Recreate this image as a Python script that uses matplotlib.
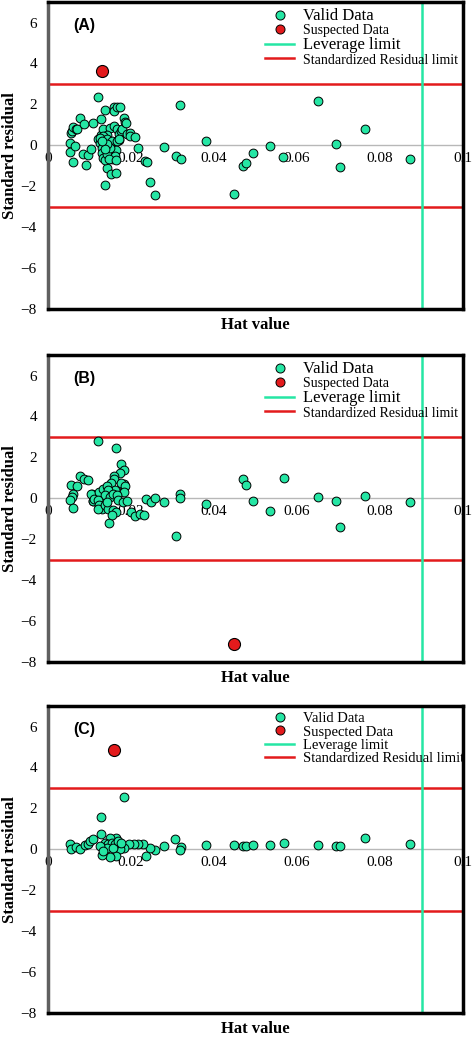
import numpy as np
import matplotlib
matplotlib.use("Agg")
import matplotlib.pyplot as plt
import matplotlib.transforms as mtransforms
from matplotlib.lines import Line2D

# ---------------- data ----------------
a_hat = [0.0054, 0.0054, 0.0055, 0.0057, 0.0059, 0.0061, 0.0064, 0.0068, 0.0071, 0.0078,
         0.0084, 0.0087, 0.0092, 0.0097, 0.0104, 0.0108, 0.0120, 0.0128, 0.0128, 0.0133,
         0.0138, 0.0149, 0.0158, 0.0158, 0.0160, 0.0166, 0.0173, 0.0166, 0.0170, 0.0170,
         0.0175, 0.0178, 0.0183, 0.0186, 0.0187, 0.0190, 0.0198, 0.0197, 0.0210, 0.0217,
         0.0233, 0.0239, 0.0246, 0.0257, 0.0143, 0.0151, 0.0165, 0.0138,
         0.0121, 0.0126, 0.0129, 0.0131, 0.0133, 0.0137, 0.0142, 0.0133, 0.0125, 0.0143,
         0.0153, 0.0167, 0.0172, 0.0147, 0.0159, 0.0165, 0.0143, 0.0153, 0.0149, 0.0141,
         0.0161, 0.0146, 0.0137, 0.0129, 0.0165,
         0.0279, 0.0308, 0.0321, 0.0319, 0.0381, 0.0449, 0.0469, 0.0476, 0.0494, 0.0534,
         0.0567, 0.0650, 0.0695, 0.0704, 0.0764, 0.0872]
a_res = [0.10, -0.31, 0.62, 0.70, 0.90, -0.82, -0.03, 0.80, 0.82, 1.33,
         -0.43, 1.05, -0.98, -0.46, -0.16, 1.07, 2.34, 1.29, 0.52, 0.79,
         1.72, 0.85, 0.95, 1.88, 1.69, 1.88, 1.88, 0.79, 0.53, 0.28,
         0.70, 0.79, 1.33, 1.16, 1.07, 0.54, 0.59, 0.47, 0.41, -0.15,
         -0.75, -0.82, -1.80, -2.44, -1.10, -1.38, -1.34, -1.92,
         0.33, 0.13, -0.11, -0.36, -0.62, -0.72, 0.52, 0.46, 0.38, 0.33,
         0.20, 0.20, 0.33, -0.08, -0.25, -0.25, -0.44, -0.69, -0.11, 0.05,
         -0.52, -0.69, -0.20, 0.20, -0.72,
         -0.08, -0.51, -0.69, 1.97, 0.21, -2.36, -1.02, -0.85, -0.38, -0.05,
         -0.57, 2.15, 0.06, -1.05, 0.82, -0.65]
a_out_hat = [0.0131]
a_out_res = [3.65]

b_hat = [0.0120, 0.0164, 0.0177, 0.0184, 0.0174, 0.0158, 0.0159, 0.0078, 0.0087, 0.0097,
         0.0055, 0.0070, 0.0182, 0.0184, 0.0061, 0.0057, 0.0054, 0.0061, 0.0106, 0.0109,
         0.0237, 0.0247, 0.0259, 0.0279, 0.0319, 0.0319, 0.0381, 0.0469, 0.0476, 0.0494,
         0.0534, 0.0568, 0.0650, 0.0695, 0.0764, 0.0872, 0.0147, 0.0308, 0.0704, 0.0201,
         0.0210, 0.0221, 0.0231,
         0.0152, 0.0175, 0.0186, 0.0182, 0.0161, 0.0104, 0.0108, 0.0112, 0.0124, 0.0133,
         0.0141, 0.0145, 0.0137, 0.0149, 0.0157, 0.0167, 0.0169, 0.0181, 0.0191, 0.0120,
         0.0124, 0.0129, 0.0120, 0.0137, 0.0145, 0.0157, 0.0165, 0.0153, 0.0143]
b_res = [2.78, 2.46, 1.68, 1.37, 1.26, 1.07, 0.96, 1.07, 0.94, 0.91,
         0.63, 0.59, 0.72, 0.54, 0.23, 0.06, -0.06, -0.47, 0.20, -0.13,
         -0.02, -0.20, 0.02, -0.16, 0.23, 0.00, -0.26, 0.96, 0.65, -0.13,
         -0.64, 1.01, 0.08, -0.13, 0.11, -0.16, -1.21, -1.86, -1.42, -0.67,
         -0.88, -0.78, -0.80,
         0.75, 0.75, 0.59, 0.31, 0.42, 0.23, -0.13, -0.02, 0.31, 0.47,
         0.59, 0.39, 0.15, 0.07, 0.23, 0.15, -0.10, -0.18, -0.15, -0.10,
         -0.34, -0.50, -0.50, -0.34, -0.50, -0.59, -0.67, -0.83, -0.18]
b_out_hat = [0.0449]
b_out_res = [-7.10]

c_hat = [0.0128, 0.0182, 0.0128, 0.0764, 0.0307, 0.0568, 0.0534, 0.0872, 0.0650, 0.0695,
         0.0704, 0.0449, 0.0469, 0.0476, 0.0494, 0.0381, 0.0321, 0.0319, 0.0279,
         0.0258, 0.0246, 0.0236, 0.0230, 0.0218, 0.0206, 0.0194, 0.0184, 0.0173, 0.0165,
         0.0164, 0.0149, 0.0149, 0.0129, 0.0054, 0.0055, 0.0067, 0.0078, 0.0088, 0.0096,
         0.0101, 0.0109, 0.0137, 0.0145, 0.0153, 0.0161, 0.0141, 0.0157, 0.0125, 0.0133,
         0.0169, 0.0177]
c_res = [1.59, 2.55, 0.73, 0.55, 0.50, 0.32, 0.21, 0.24, 0.19, 0.17,
         0.17, 0.19, 0.18, 0.15, 0.19, 0.19, 0.11, -0.02, 0.16,
         -0.05, 0.08, -0.31, 0.24, 0.28, 0.28, 0.24, 0.08, 0.03, 0.57,
         -0.31, 0.57, -0.36, -0.29, 0.24, 0.00, 0.11, 0.00, 0.20, 0.24,
         0.39, 0.49, 0.33, 0.24, 0.33, 0.24, 0.08, 0.08, 0.16, -0.08,
         0.41, 0.33]
c_out_hat = [0.0158]
c_out_res = [4.85]

panels = ["(A)", "(B)", "(C)"]
leverage_limit = 0.09
resid_limit = 3.0
x_ticks = [0, 0.02, 0.04, 0.06, 0.08, 0.1]
x_ticklabels = ["0", "0.02", "0.04", "0.06", "0.08", "0.1"]
y_ticks = [-8, -6, -4, -2, 0, 2, 4, 6]

# ---------------- style ----------------
green = "#25e6a4"
red = "#e31a1c"
serif = "Liberation Serif"

fig = plt.figure(figsize=(4.74, 10.37), dpi=100)
bottoms = [0.702, 0.3616, 0.0231]
sets = [(a_hat, a_res, a_out_hat, a_out_res),
        (b_hat, b_res, b_out_hat, b_out_res),
        (c_hat, c_res, c_out_hat, c_out_res)]
leg_sizes = [(12, 10, 12, 10), (12, 10, 12, 10), (10.5, 10.5, 10.5, 10.5)]

for k in range(3):
    hx, hr, ox, orr = sets[k]
    ax = fig.add_axes([0.1013, bottoms[k], 0.8755, 0.296])
    ax.set_xlim(0, 0.1)
    ax.set_ylim(-8, 7)

    # zero line with the hat value tick labels hanging under it
    ax.axhline(0, color="#b8b8b8", lw=1.0, zorder=1)
    below = mtransforms.offset_copy(ax.transData, fig=fig, y=-5, units="points")
    for xv, lab in zip(x_ticks, x_ticklabels):
        ax.text(xv, 0, lab, transform=below, ha="center", va="top",
                fontfamily=serif, fontsize=11, zorder=1, clip_on=False)

    ax.axhline(resid_limit, color=red, lw=1.8, zorder=2)
    ax.axhline(-resid_limit, color=red, lw=1.8, zorder=2)
    ax.axvline(leverage_limit, color=green, lw=1.8, zorder=2)

    ax.scatter(hx, hr, s=40, c=green, edgecolors="black", linewidths=0.7, zorder=4)
    ax.scatter(ox, orr, s=75, c=red, edgecolors="black", linewidths=0.8, zorder=4)

    ax.tick_params(axis="x", bottom=False, labelbottom=False)
    ax.set_yticks(y_ticks)
    ax.set_yticklabels(["\u2212%d" % abs(v) if v < 0 else str(v) for v in y_ticks])
    ax.tick_params(axis="y", length=0, pad=8, labelsize=11)
    for t in ax.get_yticklabels():
        t.set_fontfamily(serif)

    for s in ["top", "right", "bottom"]:
        ax.spines[s].set_color("black")
        ax.spines[s].set_linewidth(2.5)
        ax.spines[s].set_zorder(5)
    ax.spines["left"].set_color("#606060")
    ax.spines["left"].set_linewidth(2.5)
    ax.spines["left"].set_zorder(5)

    ax.set_xlabel("Hat value", fontfamily=serif, fontweight="bold", fontsize=12, labelpad=6)
    ax.set_ylabel("Standard residual", fontfamily=serif, fontweight="bold", fontsize=12,
                  labelpad=2)

    ax.text(0.006, 5.85, panels[k], fontfamily="Liberation Sans", fontweight="bold",
            fontsize=11.5, va="center", ha="left")

    handles = [Line2D([], [], ls="none", marker="o", ms=6.5, mfc=green, mec="black", mew=0.7),
               Line2D([], [], ls="none", marker="o", ms=6.5, mfc=red, mec="black", mew=0.7),
               Line2D([], [], color=green, lw=1.8),
               Line2D([], [], color=red, lw=1.8)]
    labels = ["Valid Data", "Suspected Data", "Leverage limit", "Standardized Residual limit"]
    leg = ax.legend(handles, labels, loc="upper left", bbox_to_anchor=(0.52, 0.985),
                    frameon=False, prop={"family": serif, "size": 10.5},
                    handlelength=2.0, handletextpad=0.6, labelspacing=0.0,
                    borderpad=0.1, borderaxespad=0.0)
    for t, sz in zip(leg.get_texts(), leg_sizes[k]):
        t.set_fontsize(sz)

fig.savefig("out.png", dpi=100)
